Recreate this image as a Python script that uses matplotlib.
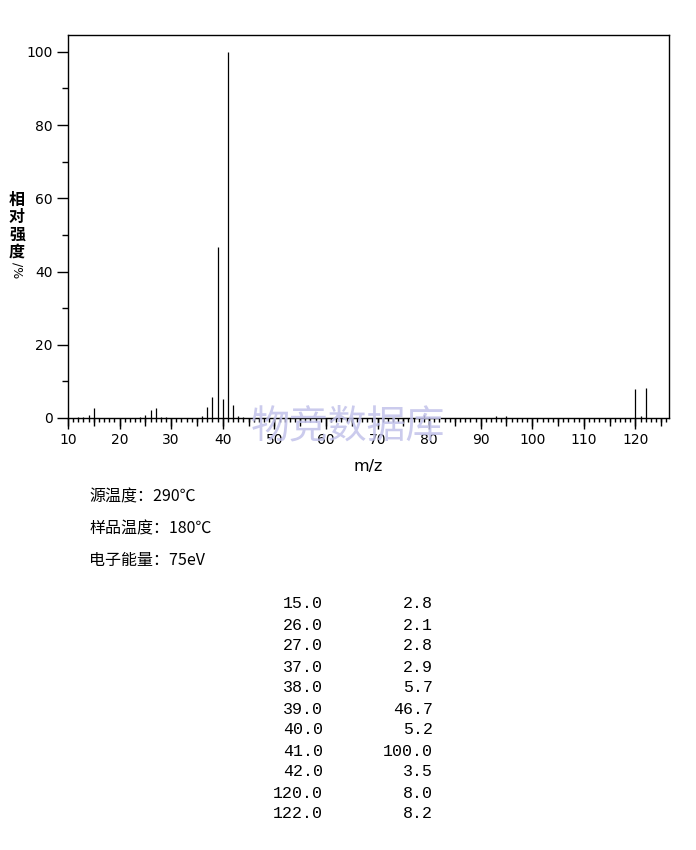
import matplotlib
matplotlib.use("Agg")
import matplotlib.pyplot as plt
from matplotlib.ticker import MultipleLocator, NullFormatter

# ---- data ----
mz = [12, 13, 14, 15, 24, 25, 26, 27, 28, 29, 36, 37, 38, 39, 40, 41, 42, 43, 44,
      79, 80, 93, 95, 120, 121, 122]
intensity = [0.4, 0.4, 0.9, 2.8, 0.4, 0.8, 2.1, 2.8, 0.4, 0.4, 0.6, 2.9, 5.7, 46.7, 5.2,
             100.0, 3.5, 0.6, 0.4, 0.8, 0.4, 0.5, 0.6, 8.0, 0.5, 8.2]
table_mz = ["15.0", "26.0", "27.0", "37.0", "38.0", "39.0", "40.0", "41.0", "42.0", "120.0", "122.0"]
table_int = ["2.8", "2.1", "2.8", "2.9", "5.7", "46.7", "5.2", "100.0", "3.5", "8.0", "8.2"]
info_lines = ["源温度：290℃", "样品温度：180℃", "电子能量：75eV"]
ylabel_chars = ["相", "对", "强", "度"]

W, H = 696, 850
fig = plt.figure(figsize=(W / 100, H / 100), dpi=100)
ax = fig.add_axes([68 / W, 1 - 418 / H, (669 - 68) / W, (418 - 35) / H])

ax.vlines(mz, 0, intensity, colors="black", linewidth=0.9)
ax.set_xlim(10, 126.5)
ax.set_ylim(0, 104.6)

for s in ax.spines.values():
    s.set_linewidth(1.0)

ax.xaxis.set_major_locator(MultipleLocator(10))
ax.xaxis.set_minor_locator(MultipleLocator(1))
ax.yaxis.set_major_locator(MultipleLocator(20))
ax.yaxis.set_minor_locator(MultipleLocator(10))
ax.tick_params(axis="x", which="major", length=8, width=1, direction="out", labelsize=10, pad=3)
ax.tick_params(axis="x", which="minor", length=3, width=1, direction="out")
ax.tick_params(axis="y", which="major", length=8, width=1, direction="out", labelsize=10, pad=3)
ax.tick_params(axis="y", which="minor", length=4, width=1, direction="out")

# medium ticks at every 5
sec = ax.secondary_xaxis("bottom")
sec.xaxis.set_major_locator(MultipleLocator(5))
sec.xaxis.set_major_formatter(NullFormatter())
sec.tick_params(length=5.5, width=1, direction="out")
sec.spines["bottom"].set_visible(False)

# x label
fig.text(368 / W, 1 - 466 / H, "m/z", ha="center", va="center", fontsize=11.5,
         family="DejaVu Sans")

# y label stacked
ys = [200, 217, 235, 252]
for ch, y in zip(ylabel_chars, ys):
    fig.text(17 / W, 1 - y / H, ch, ha="center", va="center", fontsize=11.5,
             family=["Noto Sans CJK SC", "DejaVu Sans"], fontweight="bold")
fig.text(17 / W, 1 - 270 / H, "/%", ha="center", va="center", fontsize=9,
         rotation=-90, family="DejaVu Sans")

# watermark
fig.text(348 / W, 1 - 428 / H, "物竞数据库", ha="center", va="center", fontsize=28,
         color="#c2c2ea", alpha=0.85, family=["Noto Sans CJK SC", "DejaVu Sans"], zorder=10)

# info lines
for i, line in enumerate(info_lines):
    fig.text(89 / W, 1 - (497 + 31.5 * i) / H, line, ha="left", va="center", fontsize=11.5,
             family=["Noto Sans CJK SC", "DejaVu Sans"])

# peak table
for i, (a, b) in enumerate(zip(table_mz, table_int)):
    y = 1 - (604 + 21 * i) / H
    fig.text(323 / W, y, a, ha="right", va="center", fontsize=12, family="Liberation Mono")
    fig.text(433 / W, y, b, ha="right", va="center", fontsize=12, family="Liberation Mono")

fig.savefig("out.png", dpi=100)
